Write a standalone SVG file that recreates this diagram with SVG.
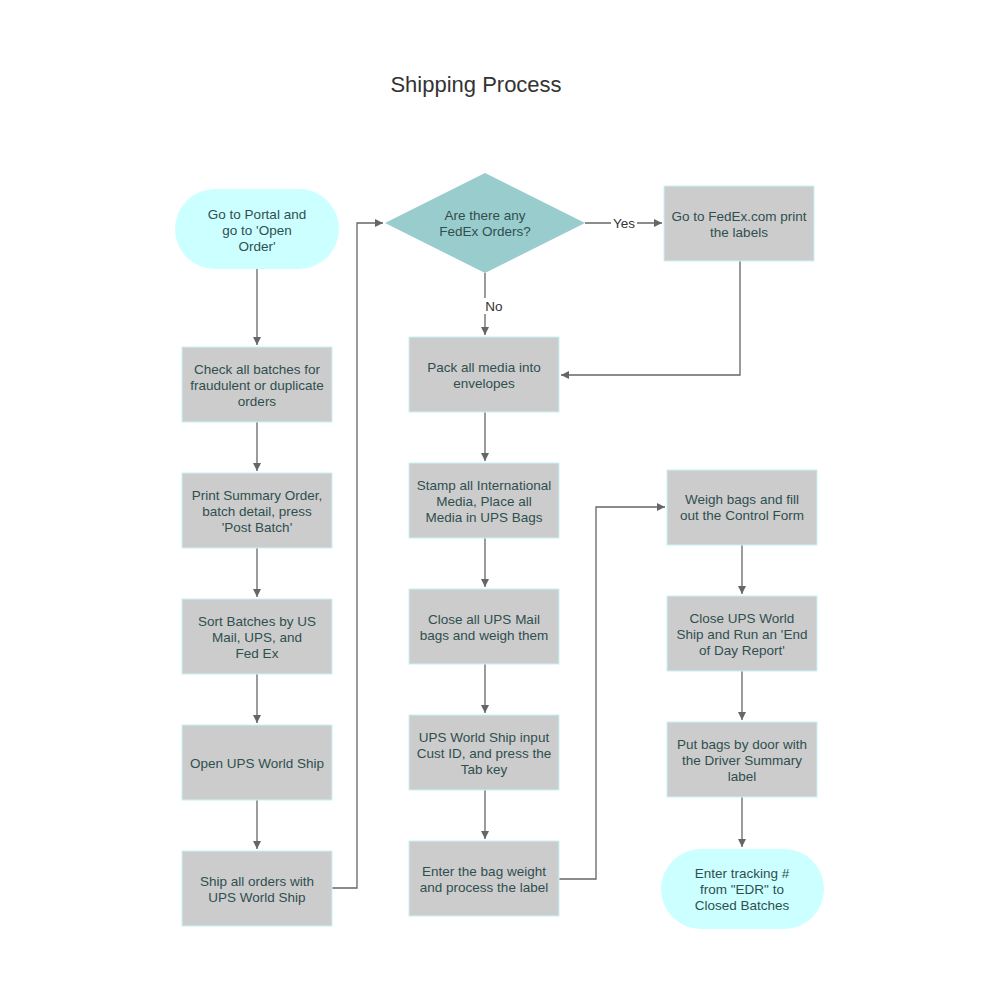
<svg xmlns="http://www.w3.org/2000/svg" width="1000" height="1000" viewBox="0 0 1000 1000">
<style>
.b{fill:#cccccc;stroke:#c8f4f4;stroke-width:1}
.t{fill:#ccffff;stroke:none}
.d{fill:#99cccc;stroke:none}
text{font-family:"Liberation Sans",Arial,sans-serif;font-size:13.5px;fill:#2f4f4f;text-anchor:middle}
.c path{fill:none;stroke:#666;stroke-width:1.3;marker-end:url(#a)}
.lb{fill:#333}
</style>
<defs><marker id="a" markerWidth="10" markerHeight="10" refX="9" refY="5" orient="auto" markerUnits="userSpaceOnUse"><path d="M1,1 L9,5 L1,9 Z" fill="#666"/></marker></defs>
<rect width="1000" height="1000" fill="#fff"/>
<text x="476" y="92" style="font-size:22px;fill:#333">Shipping Process</text>
<g class="c">
<path d="M257,269 V345"/><path d="M257,422 V471"/><path d="M257,548 V597"/><path d="M257,674 V723"/><path d="M257,800 V849"/>
<path d="M332,888 H357 V223 H383"/>
<path d="M585,223 H662"/>
<path d="M485,273 V335"/>
<path d="M740,261 V375 H561"/>
<path d="M485,412 V461"/><path d="M485,538 V587"/><path d="M485,664 V713"/><path d="M485,790 V839"/>
<path d="M559,879 H596 V507 H665"/>
<path d="M742,545 V594"/><path d="M742,671 V720"/><path d="M742,797 V847"/>
</g>
<rect x="611" y="215" width="26" height="16" fill="#fff"/><text x="624" y="228" class="lb">Yes</text>
<rect x="482" y="298" width="22" height="16" fill="#fff"/><text x="494" y="311" class="lb">No</text>
<g id="n1"><rect class="t" x="175" y="189" width="164" height="80" rx="40"/><text x="257" y="219">Go to Portal and</text><text x="257" y="235">go to 'Open</text><text x="257" y="251">Order'</text></g>
<g id="n2"><rect class="b" x="182" y="347" width="150" height="75"/><text x="257" y="374">Check all batches for</text><text x="257" y="390">fraudulent or duplicate</text><text x="257" y="406">orders</text></g>
<g id="n3"><rect class="b" x="182" y="473" width="150" height="75"/><text x="257" y="500">Print Summary Order,</text><text x="257" y="516">batch detail, press</text><text x="257" y="532">'Post Batch'</text></g>
<g id="n4"><rect class="b" x="182" y="599" width="150" height="75"/><text x="257" y="626">Sort Batches by US</text><text x="257" y="642">Mail, UPS, and</text><text x="257" y="658">Fed Ex</text></g>
<g id="n5"><rect class="b" x="182" y="725" width="150" height="75"/><text x="257" y="768">Open UPS World Ship</text></g>
<g id="n6"><rect class="b" x="182" y="851" width="150" height="75"/><text x="257" y="886">Ship all orders with</text><text x="257" y="902">UPS  World Ship</text></g>
<g id="n7"><path class="d" d="M485,173 L585,223 L485,273 L385,223 Z"/><text x="485" y="220">Are there any</text><text x="485" y="236">FedEx Orders?</text></g>
<g id="n8"><rect class="b" x="664" y="186" width="150" height="75"/><text x="739" y="221">Go to FedEx.com print</text><text x="739" y="237">the labels</text></g>
<g id="n9"><rect class="b" x="409" y="337" width="150" height="75"/><text x="484" y="372">Pack all media into</text><text x="484" y="388">envelopes</text></g>
<g id="n10"><rect class="b" x="409" y="463" width="150" height="75"/><text x="484" y="490">Stamp all International</text><text x="484" y="506">Media, Place all</text><text x="484" y="522">Media in UPS Bags</text></g>
<g id="n11"><rect class="b" x="409" y="589" width="150" height="75"/><text x="484" y="624">Close all UPS Mail</text><text x="484" y="640">bags and weigh them</text></g>
<g id="n12"><rect class="b" x="409" y="715" width="150" height="75"/><text x="484" y="742">UPS World Ship input</text><text x="484" y="758">Cust ID, and press the</text><text x="484" y="774">Tab key</text></g>
<g id="n13"><rect class="b" x="409" y="841" width="150" height="75"/><text x="484" y="876">Enter the bag weight</text><text x="484" y="892">and process the label</text></g>
<g id="n14"><rect class="b" x="667" y="470" width="150" height="75"/><text x="742" y="504">Weigh bags and fill</text><text x="742" y="520">out the Control Form</text></g>
<g id="n15"><rect class="b" x="667" y="596" width="150" height="75"/><text x="742" y="623">Close UPS World</text><text x="742" y="639">Ship and Run an 'End</text><text x="742" y="655">of Day Report'</text></g>
<g id="n16"><rect class="b" x="667" y="722" width="150" height="75"/><text x="742" y="749">Put bags by door with</text><text x="742" y="765">the Driver Summary</text><text x="742" y="781">label</text></g>
<g id="n17"><rect class="t" x="661" y="849" width="163" height="80" rx="40"/><text x="742" y="878">Enter tracking #</text><text x="742" y="894">from "EDR" to</text><text x="742" y="910">Closed Batches</text></g>
</svg>
